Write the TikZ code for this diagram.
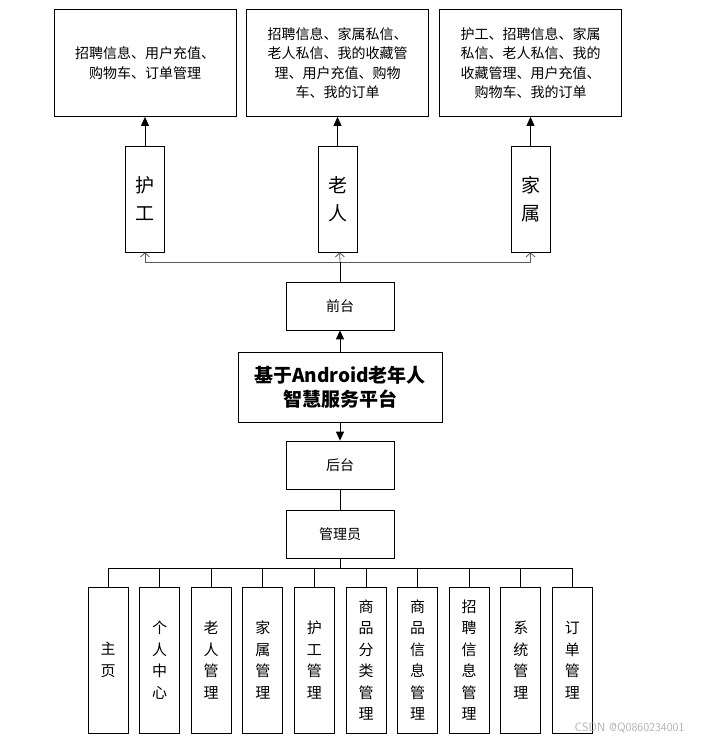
\documentclass[tikz,border=0pt]{standalone}
\usepackage{fontspec}
\newfontfamily\cjk{Noto Sans CJK SC}
\usetikzlibrary{arrows.meta}
\begin{document}
\begin{tikzpicture}[x=1pt,y=-1pt,
  bx/.style={draw,line width=0.8pt,fill=white,inner sep=0pt,font=\cjk},
  top/.style={bx,minimum width=182pt,minimum height=107pt,align=center,font=\cjk\fontsize{14}{19.5}\selectfont},
  role/.style={bx,minimum width=39pt,minimum height=106pt,align=center,font=\cjk\fontsize{19}{28}\selectfont},
  mid/.style={bx,minimum width=108pt,minimum height=48pt,font=\cjk\fontsize{14}{16}\selectfont},
  bot/.style={bx,minimum width=40pt,minimum height=146pt,align=center,font=\cjk\fontsize{15}{21.5}\selectfont},
  fa/.style={-{Triangle[length=9pt,width=8pt]},line width=1pt},
  oa/.style={-{Straight Barb[length=4pt,width=9pt]},line width=0.8pt,draw=gray!70!black}]
\useasboundingbox (0,0) rectangle (701,746);
\node[top] (t1) at (145,63) {招聘信息、用户充值、\\购物车、订单管理};
\node[top] (t2) at (337.5,63) {招聘信息、家属私信、\\老人私信、我的收藏管\\理、用户充值、购物\\车、我的订单};
\node[top] (t3) at (530.5,63) {护工、招聘信息、家属\\私信、老人私信、我的\\收藏管理、用户充值、\\购物车、我的订单};
\node[role] (r1) at (145,199) {护\\工};
\node[role] (r2) at (337.5,199) {老\\人};
\node[role] (r3) at (530.5,199) {家\\属};
\draw[fa] (r1) -- (t1);
\draw[fa] (r2) -- (t2);
\draw[fa] (r3) -- (t3);
\node[mid] (qt) at (340,306) {前台};
\node[bx,minimum width=204pt,minimum height=70pt,align=center,font=\cjk\bfseries\fontsize{19}{24}\selectfont] (m) at (340,387) {基于Android老年人\\智慧服务平台};
\node[mid] (ht) at (340,465) {后台};
\node[mid] (gl) at (340,534) {管理员};
\coordinate (j) at (340,262);
\coordinate (j1) at (145,262);
\coordinate (j3) at (530.5,262);
\draw[line width=0.8pt,draw=gray!70!black] (j1) -- (j3);
\draw[oa] (j1) -- (r1);
\draw[oa] (j3) -- (r3);
\draw[oa] (j) -- (r2);
\draw[line width=0.8pt] (qt) -- (j);
\draw[fa] (m) -- (qt);
\draw[fa] (m) -- (ht);
\draw[line width=0.8pt] (ht) -- (gl);
\coordinate (bus) at (340,568);
\draw[line width=0.8pt] (gl) -- (bus);
\draw[line width=0.8pt] (108,568) -- (572,568);
\foreach \i/\t in {0/主\\页,1/个\\人\\中\\心,2/老\\人\\管\\理,3/家\\属\\管\\理,4/护\\工\\管\\理,5/商\\品\\分\\类\\管\\理,6/商\\品\\信\\息\\管\\理,7/招\\聘\\信\\息\\管\\理,8/系\\统\\管\\理,9/订\\单\\管\\理}{
  \node[bot] (b\i) at ({108+51.6*\i},660) {\t};
  \draw[line width=0.8pt] ({108+51.6*\i},568) -- (b\i.north);
}
\node[font=\fontsize{12}{14}\selectfont\sffamily,text=gray!60,anchor=east] (w) at (688,728) {CSDN @Q0860234001};
\end{tikzpicture}
\end{document}
